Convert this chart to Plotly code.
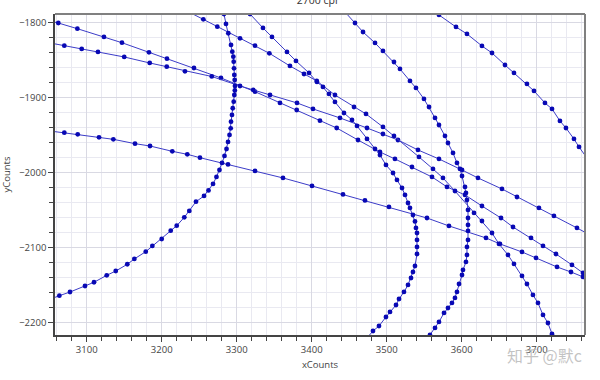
import plotly.graph_objects as go

# ---- data (xCounts, yCounts) ----
l1_x = [3051, 3062.1, 3087.5, 3123, 3147, 3183, 3207, 3243, 3279, 3324.4, 3357.7, 3380, 3411, 3433.3,
        3461.7, 3491, 3511, 3533.7, 3560.4, 3580.4, 3604.4, 3627, 3652.4, 3668.4, 3692.4, 3708.4,
        3725.7, 3747, 3761.7, 3771]
l1_y = [-1797.7, -1800.4, -1808, -1819, -1826.7, -1839.5, -1848, -1860.4, -1873.7, -1892, -1907,
        -1916.4, -1930.7, -1940.4, -1956.4, -1972.4, -1981.7, -1992.4, -2005.7, -2019, -2029.7,
        -2044.4, -2060.4, -2072.4, -2087, -2097.7, -2108.4, -2123, -2133.7, -2140.4]

l2_x = [3051, 3070.1, 3093.3, 3115, 3150, 3184, 3206.7, 3231, 3266.7, 3304.4, 3322, 3344.4, 3380.4,
        3401.7, 3437.7, 3473.7, 3495, 3515, 3541.7, 3569.7, 3600.4, 3621.7, 3653.7, 3673.7, 3703,
        3723, 3753.7, 3773.7]
l2_y = [-1827, -1830.7, -1835, -1839, -1845.7, -1853.7, -1858.7, -1864.8, -1871.7, -1884.4, -1889.7,
        -1896.4, -1907, -1915, -1927, -1940.4, -1948.4, -1956.4, -1969.7, -1981.7, -1996.4, -2007,
        -2021.7, -2032.4, -2047, -2057.7, -2073.7, -2084.4]

l3_x = [3051, 3070.1, 3088, 3116.4, 3135.5, 3164.4, 3184.4, 3214.1, 3234.1, 3251, 3288.4, 3324.4,
        3361.7, 3400.4, 3441.7, 3471, 3503, 3553.7, 3583, 3632.4, 3651, 3680.4, 3699.1, 3727.1,
        3745.7, 3761.7, 3773.7]
l3_y = [-1944.4, -1946.7, -1948.8, -1952.8, -1955.5, -1961.3, -1964.4, -1971.5, -1975.5, -1980, -1989,
        -1997.7, -2007, -2017.7, -2029, -2037, -2045.7, -2060.4, -2071, -2087, -2095, -2105.7,
        -2113.7, -2125.7, -2132.4, -2139, -2143.7]

l4_x = [3231, 3255.5, 3274.1, 3304.4, 3324.4, 3343.5, 3371, 3389.7, 3406.7, 3431, 3456.4, 3472.4,
        3495, 3509.7, 3543, 3561.7, 3575, 3591, 3616.4, 3627, 3640.4, 3649.7, 3661.7, 3669.7,
        3680.4, 3687, 3695, 3701.7, 3708.4, 3715, 3720.4, 3724.4]
l4_y = [-1783, -1795.5, -1805.3, -1820.8, -1830.7, -1840.8, -1857.7, -1868.4, -1877.7, -1896.4,
        -1912.4, -1921.7, -1939, -1951, -1979, -1995, -2007, -2024.4, -2053.7, -2064.4, -2080.4,
        -2095, -2109.7, -2121.7, -2137.7, -2148.4, -2163, -2173.7, -2189.7, -2200.4, -2215, -2225.7]

c1_x = [3280.4, 3283, 3285.7, 3288.8, 3292.4, 3294.1, 3295.5, 3296, 3296.4, 3296.8, 3297.3, 3297.7,
        3297.5, 3296.8, 3296, 3294.7, 3293.7, 3292.4, 3292, 3290.4, 3288.4, 3286.4, 3283.7, 3280.4,
        3277, 3273, 3268.4, 3262.4, 3256.4, 3245.7, 3236.8, 3230.1, 3220, 3212, 3200, 3187.5,
        3178.7, 3163.5, 3154.1, 3138.7, 3126.7, 3109.7, 3097.7, 3077.7, 3063.5, 3048.4]
c1_y = [-1780.4, -1788.4, -1801.7, -1814.1, -1829.7, -1838.7, -1845.3, -1852, -1860.8, -1869.7,
        -1876.4, -1884.4, -1890.4, -1896.4, -1905.3, -1914.1, -1923, -1932, -1940.8, -1949.7, -1959,
        -1968.4, -1977.7, -1987, -1996.4, -2005.7, -2015, -2023.7, -2031, -2038.7, -2051, -2059.5,
        -2070.7, -2077.3, -2088.4, -2097.7, -2105.3, -2115, -2122.1, -2131.1, -2136.8, -2146.1,
        -2151.1, -2159.1, -2164, -2169.7]

c2_x = [3312.4, 3317.7, 3335, 3347, 3367, 3379, 3396.4, 3407, 3415, 3423, 3431, 3443, 3453.7, 3460.4,
        3473.7, 3484.4, 3491, 3499, 3508.4, 3513.7, 3520.4, 3524.4, 3528.4, 3531, 3535, 3537.7, 3539,
        3540.4, 3540.4, 3540.4, 3540.4, 3537.7, 3535, 3532.4, 3528.4, 3523, 3516.4, 3512.4, 3504.4,
        3499, 3489.7, 3481.7, 3472.4]
c2_y = [-1780.4, -1788.4, -1807, -1819, -1839, -1851, -1867, -1879, -1885.7, -1895, -1905.7, -1920.4,
        -1929.7, -1937.7, -1955, -1968.4, -1976.4, -1989.7, -2000.4, -2009.7, -2020.4, -2029.7,
        -2040.4, -2047, -2056.4, -2065, -2073.7, -2080.4, -2089.7, -2099, -2108.4, -2124.4, -2132.4,
        -2140.4, -2149.7, -2159, -2168.4, -2176.4, -2185.7, -2192.4, -2204.4, -2211.1, -2221.7]

c3_x = [3444.4, 3457.7, 3468.4, 3484.4, 3495, 3509.7, 3517.7, 3531, 3539, 3549.7, 3556.4, 3564.4,
        3569.7, 3577.7, 3581.7, 3588.4, 3593.7, 3597.7, 3600.4, 3604.4, 3605.7, 3607, 3608.4, 3608.4,
        3608.4, 3608.4, 3608.4, 3607, 3607, 3605.7, 3601.7, 3600.4, 3596.4, 3593.7, 3591, 3587,
        3581.7, 3576.4, 3569.7, 3564.4, 3557.7, 3551]
c3_y = [-1785.7, -1800.4, -1812.4, -1827, -1837.7, -1852.4, -1861.7, -1877.7, -1887, -1901.7,
        -1912.4, -1927, -1936.4, -1951, -1960.4, -1973.7, -1987, -1995, -2004.4, -2019, -2027,
        -2036.4, -2049.7, -2060.4, -2069.7, -2077.7, -2089.7, -2099, -2109.7, -2119, -2129.7,
        -2136.4, -2148.4, -2159, -2167, -2173.7, -2180.4, -2187, -2199, -2207, -2216.4, -2225.7]

c5_x = [3561.7, 3569.7, 3592.4, 3607, 3627, 3640.4, 3657.7, 3669.7, 3687, 3696.4, 3711, 3720.4,
        3731, 3739, 3749.7, 3756.4, 3767]
c5_y = [-1783, -1789.7, -1805.7, -1815, -1831, -1840.4, -1856.4, -1867, -1881.7, -1891, -1907,
        -1915, -1931, -1940.4, -1955, -1965.7, -1980.4]

series = [(l1_x, l1_y), (l2_x, l2_y), (l3_x, l3_y), (l4_x, l4_y),
          (c1_x, c1_y), (c2_x, c2_y), (c3_x, c3_y), (c5_x, c5_y)]

title_text = "2700 cpr"
x_title = "xCounts"
y_title = "yCounts"
watermark = "知乎 @默c"

LINE_COLOR = "#3c3cc8"
MARK_COLOR = "#0808b4"
FONT = "Open Sans"

fig = go.Figure()
for xs, ys in series:
    fig.add_trace(go.Scatter(
        x=xs, y=ys, mode="lines+markers",
        line=dict(color=LINE_COLOR, width=1),
        marker=dict(color=MARK_COLOR, size=4.8),
        showlegend=False, hoverinfo="skip"))

axis_common = dict(
    automargin=False,
    showgrid=True, gridcolor="#d9d9e3", gridwidth=1,
    zeroline=False, showline=True, linecolor="#444444", linewidth=1.5,
    ticks="outside", ticklen=5, tickcolor="#444444", tickwidth=1,
    tickfont=dict(family=FONT, size=9.5, color="#444444"),
    minor=dict(dtick=20, showgrid=True, gridcolor="#e9e9f1", gridwidth=1,
               ticks="outside", ticklen=4, tickcolor="#444444"),
    dtick=100, tick0=0,
)

fig.update_layout(
    width=600, height=380,
    margin=dict(l=55, r=15, t=14, b=45, autoexpand=False),
    paper_bgcolor="white", plot_bgcolor="white",
    title=dict(text=title_text, x=0.53, xanchor="center", y=1 - 3.5 / 380, yanchor="bottom",
               yref="container", font=dict(family=FONT, size=10.5, color="#333333"),
               automargin=False),
    xaxis=dict(range=[3057.7, 3764.4], title=dict(text=x_title, standoff=6,
               font=dict(family=FONT, size=9.5, color="#444444")), **axis_common),
    yaxis=dict(range=[-2216.4, -1788.4], title=dict(text=y_title, standoff=7,
               font=dict(family=FONT, size=9.5, color="#444444")), **axis_common),
    shapes=[
        dict(type="line", xref="paper", yref="paper", x0=0, x1=1, y0=1, y1=1,
             line=dict(color="#808080", width=2), layer="above"),
        dict(type="line", xref="paper", yref="paper", x0=1, x1=1, y0=0, y1=1,
             line=dict(color="#808080", width=2), layer="above"),
    ],
    annotations=[
        dict(text=watermark, xref="paper", yref="paper", x=0.923, y=-(355 - 335) / 321,
             xanchor="center", yanchor="middle", showarrow=False,
             font=dict(family="Noto Sans CJK SC", size=16, color="rgba(185,185,185,0.85)")),
    ],
)

fig.write_html("out.html", config={"displayModeBar": False},
               post_script="document.body.style.margin='0';")
